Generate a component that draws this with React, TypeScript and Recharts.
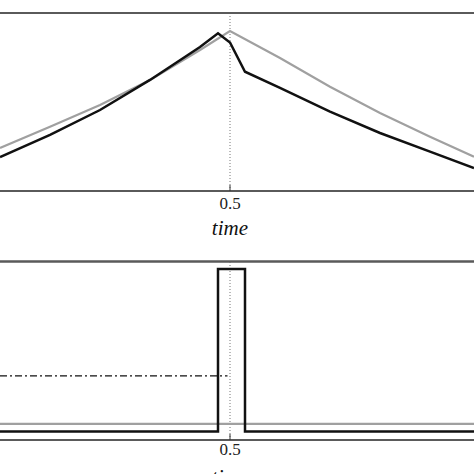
import { ComposedChart, Line, XAxis, YAxis, ReferenceLine } from "recharts";

// time values (x) and levels (y)
const grayTime = [0.04, 0.14, 0.24, 0.34, 0.44, 0.5, 0.6, 0.7, 0.8, 0.9, 0.988];
const grayLevel = [0.242, 0.361, 0.483, 0.624, 0.792, 0.899, 0.747, 0.586, 0.438, 0.305, 0.193];

const blackTime = [0.04, 0.14, 0.24, 0.34, 0.44, 0.476, 0.5, 0.53, 0.6, 0.7, 0.8, 0.9, 0.988];
const blackLevel = [0.191, 0.315, 0.455, 0.624, 0.809, 0.886, 0.834, 0.67, 0.579, 0.446, 0.326, 0.221, 0.129];

const pulseTime = [0.04, 0.476, 0.476, 0.53, 0.53, 0.988];
const pulseLevel = [0.048, 0.048, 0.958, 0.958, 0.048, 0.048];

const flatTime = [0.04, 0.988];
const flatLevel = [0.09, 0.09];

const refTime = [0.04, 0.495];
const refLevel = [0.359, 0.359];

const xTicks = [0.5];
const xDomain = [0.04, 0.988];

const zip = (t: number[], v: number[]) => t.map((x, i) => ({ t: x, v: v[i] }));

const grayData = zip(grayTime, grayLevel);
const blackData = zip(blackTime, blackLevel);
const pulseData = zip(pulseTime, pulseLevel);
const flatData = zip(flatTime, flatLevel);
const refData = zip(refTime, refLevel);

const BORDER = "#5a5a5a";

function Tick(props: any) {
  const { x, y, payload } = props;
  return (
    <text x={x} y={y + 11.5} textAnchor="middle" fontFamily="Liberation Serif" fontSize={17} fill="#222">
      {String(payload.value)}
    </text>
  );
}

function TimeLabel(props: any) {
  const { viewBox } = props;
  return (
    <text
      x={viewBox.x + viewBox.width * 0.485}
      y={viewBox.y + 44}
      textAnchor="middle"
      fontFamily="Liberation Serif"
      fontStyle="italic"
      fontSize={21}
      fill="#111"
    >
      time
    </text>
  );
}

function Axes({ margin, height }: { margin: number; height: number }) {
  return [
    <XAxis
      key="b"
      xAxisId="b"
      dataKey="t"
      type="number"
      domain={xDomain}
      allowDataOverflow
      ticks={xTicks}
      axisLine={{ stroke: BORDER, strokeWidth: 2 }}
      tickLine={{ stroke: "#333", strokeWidth: 1 }}
      tickSize={-6}
      tickMargin={margin}
      tick={<Tick />}
      height={height}
      label={<TimeLabel />}
    />,
    <XAxis
      key="t"
      xAxisId="t"
      orientation="top"
      dataKey="t"
      type="number"
      domain={xDomain}
      allowDataOverflow
      ticks={xTicks}
      axisLine={{ stroke: BORDER, strokeWidth: 2 }}
      tickLine={{ stroke: "#333", strokeWidth: 1 }}
      tickSize={-6}
      tick={false}
      height={1}
    />,
    <YAxis key="y" yAxisId="y" hide domain={[0, 1]} allowDataOverflow />,
    <ReferenceLine key="top" xAxisId="b" yAxisId="y" y={1} stroke={BORDER} strokeWidth={2} />,
    <ReferenceLine key="mid" xAxisId="b" yAxisId="y" x={0.5} stroke="#777" strokeWidth={1} strokeDasharray="1 2" />,
  ];
}

export default function App() {
  return (
    <div
      style={{
        position: "absolute",
        left: 0,
        top: 0,
        width: 474,
        height: 474,
        overflow: "hidden",
        background: "#fff",
      }}
    >
      <ComposedChart width={474} height={245} margin={{ top: 12, right: 0, bottom: 0, left: 0 }}>
        {Axes({ margin: 12, height: 54 })}
        <Line xAxisId="b" yAxisId="y" data={grayData} dataKey="v" type="linear" stroke="#a0a0a0" strokeWidth={2.2} dot={false} isAnimationActive={false} />
        <Line xAxisId="b" yAxisId="y" data={blackData} dataKey="v" type="linear" stroke="#111" strokeWidth={2.5} dot={false} isAnimationActive={false} />
      </ComposedChart>
      <ComposedChart width={474} height={229} margin={{ top: 15.5, right: 0, bottom: 0, left: 0 }}>
        {Axes({ margin: 9, height: 34 })}
        <Line xAxisId="b" yAxisId="y" data={refData} dataKey="v" type="linear" stroke="#111" strokeWidth={1.3} strokeDasharray="7 3 2 3" dot={false} isAnimationActive={false} />
        <Line xAxisId="b" yAxisId="y" data={flatData} dataKey="v" type="linear" stroke="#a0a0a0" strokeWidth={2.2} dot={false} isAnimationActive={false} />
        <Line xAxisId="b" yAxisId="y" data={pulseData} dataKey="v" type="linear" stroke="#111" strokeWidth={2.5} dot={false} isAnimationActive={false} />
      </ComposedChart>
    </div>
  );
}
